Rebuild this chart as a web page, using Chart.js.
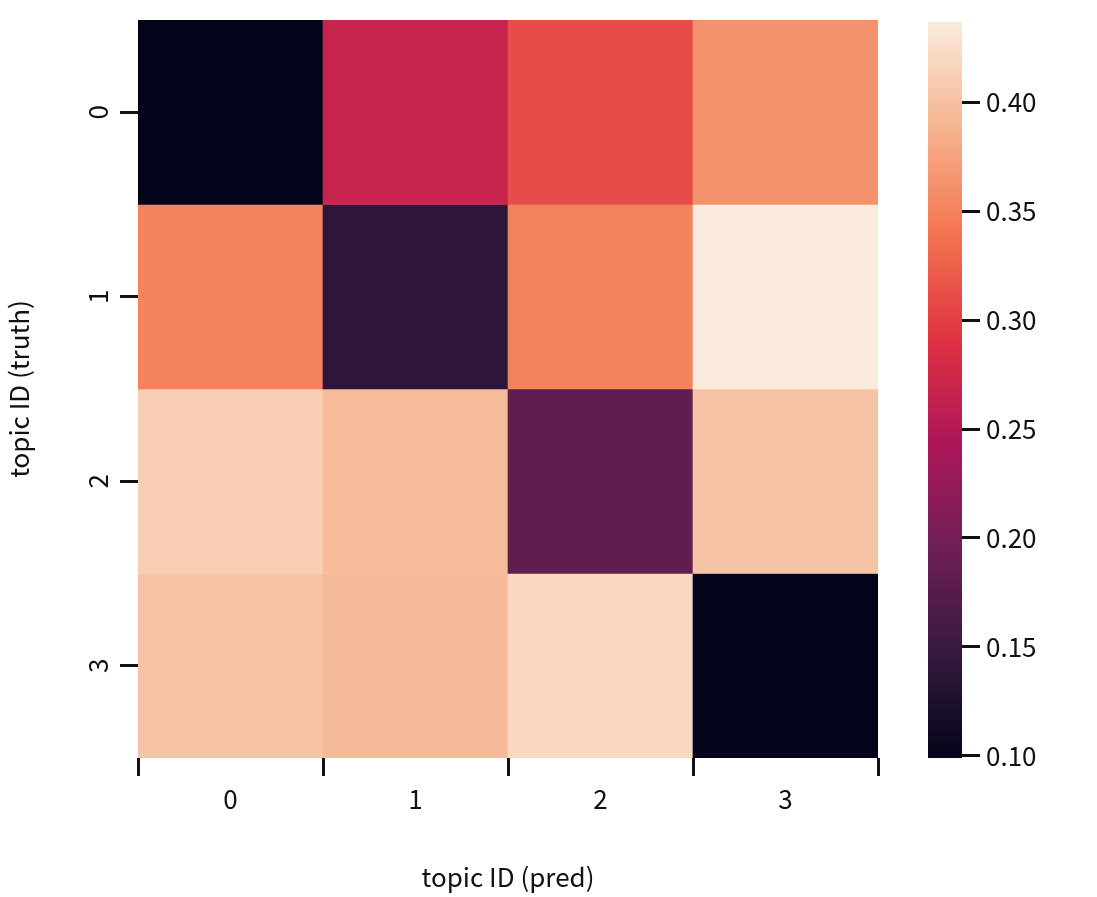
<!DOCTYPE html>
<html><head><meta charset="utf-8">
<script src="https://cdn.jsdelivr.net/npm/chart.js@4"></script>
<style>body{margin:0;background:#fff;width:1097px;height:897px;position:relative;overflow:hidden}
canvas{position:absolute;top:0}</style></head><body>
<div style="position:absolute;left:0;top:0;width:900px;height:897px"><canvas id="c1"></canvas></div>
<div style="position:absolute;left:900px;top:0;width:197px;height:897px"><canvas id="c2"></canvas></div>
<script>
const xLabels=['0','1','2','3'];
const yLabels=['0','1','2','3'];
const row0=[0.100,0.268,0.310,0.362];
const row1=[0.350,0.140,0.350,0.437];
const row2=[0.412,0.395,0.182,0.402];
const row3=[0.402,0.394,0.420,0.100];
const rows=[row0,row1,row2,row3];
const vmin=0.099,vmax=0.437;
const cbTicks=[0.10,0.15,0.20,0.25,0.30,0.35,0.40];
const stops=[[0,[3,5,26]],[0.143,[53,25,62]],[0.286,[112,31,87]],[0.429,[173,23,89]],[0.571,[225,51,66]],[0.714,[243,118,81]],[0.857,[246,180,143]],[1,[250,235,221]]];
function rocket(t){t=Math.max(0,Math.min(1,t));for(let i=1;i<stops.length;i++){if(t<=stops[i][0]){const a=stops[i-1],b=stops[i];const f=(t-a[0])/(b[0]-a[0]);const c=a[1].map((v,k)=>Math.round(v+(b[1][k]-v)*f));return `rgb(${c})`;}}return 'rgb(250,235,221)';}
const col=v=>rocket((v-vmin)/(vmax-vmin));
const FONT="'Noto Sans CJK JP','Noto Sans',sans-serif";
Chart.defaults.font.family=FONT;Chart.defaults.color='#111';
const gridOpt={drawOnChartArea:false,tickLength:18,lineWidth:3,color:'#111',tickColor:'#111'};
const yLabelPlugin={id:'yl',afterDraw(ch){const s=ch.scales.y,ctx=ch.ctx;ctx.save();ctx.font=`26px ${FONT}`;ctx.fillStyle='#111';ctx.textAlign='center';ctx.textBaseline='middle';
yLabels.forEach((l,i)=>{ctx.save();ctx.translate(s.right-18-22,s.getPixelForValue(i));ctx.rotate(-Math.PI/2);ctx.fillText(l,0,0);ctx.restore();});ctx.restore();}};
new Chart(document.getElementById('c1'),{type:'bar',
data:{labels:xLabels,datasets:rows.map((r,i)=>({data:r.map(()=>[i-0.5,i+0.5]),backgroundColor:r.map(col),borderWidth:0,grouped:false,barPercentage:1,categoryPercentage:1}))},
options:{responsive:true,maintainAspectRatio:false,animation:false,layout:{padding:{top:20,right:22,left:0,bottom:0}},
plugins:{legend:{display:false},tooltip:{enabled:false}},
scales:{x:{grid:gridOpt,border:{display:false},ticks:{font:{size:26},padding:8},title:{display:true,text:'topic ID (pred)',font:{size:26},padding:{top:0}},afterFit(s){s.height=139;}},
y:{reverse:true,min:-0.5,max:3.5,grid:gridOpt,border:{display:false},afterBuildTicks(s){s.ticks=[0,1,2,3].map(v=>({value:v}));},ticks:{color:'rgba(0,0,0,0)',font:{size:26}},title:{display:true,text:'topic ID (truth)',font:{size:26},padding:{bottom:0}},afterFit(s){s.width=138;}}}},
plugins:[yLabelPlugin]});
const gradPlugin={id:'grad',beforeDatasetsDraw(ch){const a=ch.chartArea,ctx=ch.ctx;const g=ctx.createLinearGradient(0,a.bottom,0,a.top);stops.forEach(s=>g.addColorStop(s[0],`rgb(${s[1]})`));ctx.fillStyle=g;ctx.fillRect(a.left,a.top,a.right-a.left,a.bottom-a.top);}};
new Chart(document.getElementById('c2'),{type:'bar',data:{labels:[''],datasets:[{data:[0]}]},
options:{responsive:true,maintainAspectRatio:false,animation:false,layout:{padding:{top:20,bottom:139,left:28,right:0}},
plugins:{legend:{display:false},tooltip:{enabled:false}},
scales:{x:{display:false},y:{position:'right',min:vmin,max:vmax,grid:gridOpt,border:{display:false},afterBuildTicks(s){s.ticks=cbTicks.map(v=>({value:v}));},ticks:{font:{size:26},padding:6,callback:v=>v.toFixed(2)},afterFit(s){s.width=135;}}}},
plugins:[gradPlugin]});
</script></body></html>
